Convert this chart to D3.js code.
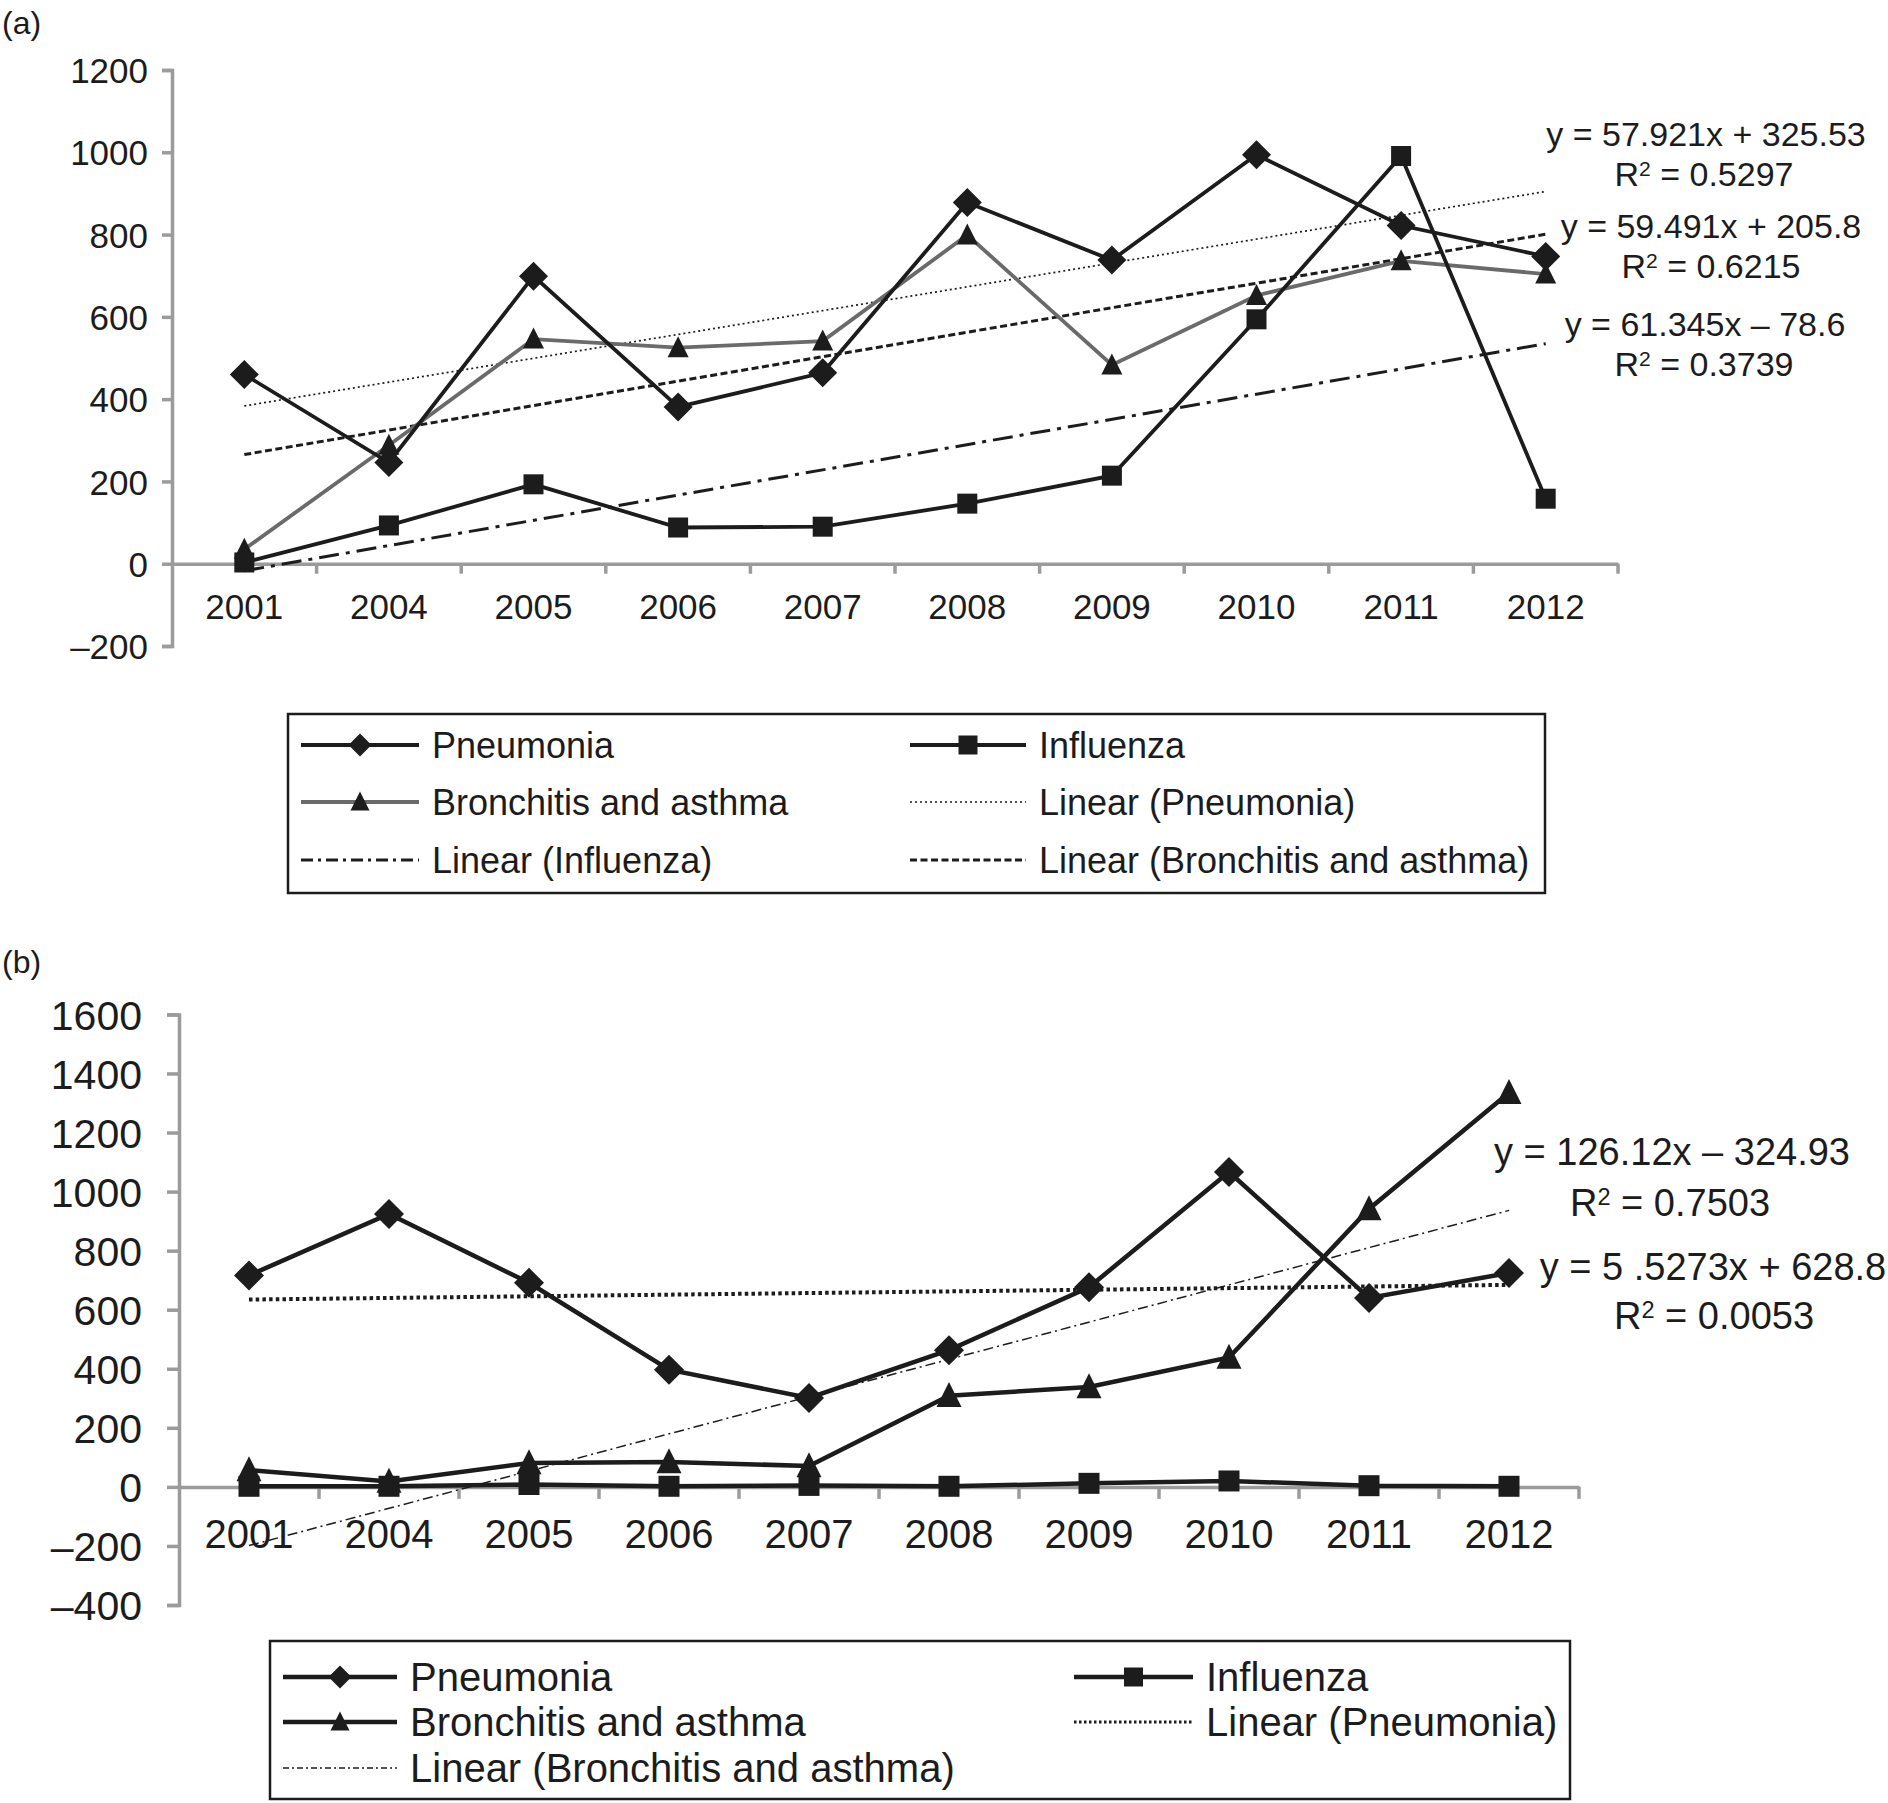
<!DOCTYPE html>
<html><head><meta charset="utf-8">
<script src="https://cdn.jsdelivr.net/npm/d3@7"></script>
<style>
body{margin:0;background:#fff}
svg{display:block}
text{font-family:"Liberation Sans",Arial,Helvetica,sans-serif;fill:#1c1c1c}
</style>
</head><body>
<svg id="c" width="1888" height="1803"></svg>
<script>
// ---------------- DATA ----------------
const categories = ["2001","2004","2005","2006","2007","2008","2009","2010","2011","2012"];

// Panel (a)
const yTicksA = [-200,0,200,400,600,800,1000,1200];
const pneumoniaA  = [460,246,699,381,464,878,738,994,822,747];
const influenzaA  = [3,93,193,88,90,146,214,594,991,158];
const bronchitisA = [35,288,546,525,541,799,483,652,736,704];
const trendSeriesA    = ["pneumonia","influenza","bronchitis"];
const trendSlopeA     = [57.921,61.345,59.491];
const trendInterceptA = [325.53,-78.6,205.8];
const equationTextA   = ["y = 57.921x + 325.53","y = 59.491x + 205.8","y = 61.345x \u2013 78.6"];
const rSquaredTextA   = ["0.5297","0.6215","0.3739"];
const legendLabelsA   = ["Pneumonia","Influenza","Bronchitis and asthma","Linear (Pneumonia)","Linear (Influenza)","Linear (Bronchitis and asthma)"];

// Panel (b)
const yTicksB = [-400,-200,0,200,400,600,800,1000,1200,1400,1600];
const pneumoniaB  = [716,924,691,397,301,463,676,1066,640,724];
const influenzaB  = [2,2,8,2,5,2,12,20,4,2];
const bronchitisB = [57,18,81,84,71,309,338,438,941,1335];
const trendSeriesB    = ["pneumonia","bronchitis"];
const trendSlopeB     = [5.5273,126.12];
const trendInterceptB = [628.8,-324.93];
const equationTextB   = ["y = 126.12x \u2013 324.93","y = 5 .5273x + 628.8"];
const rSquaredTextB   = ["0.7503","0.0053"];
const legendLabelsB   = ["Pneumonia","Influenza","Bronchitis and asthma","Linear (Pneumonia)","Linear (Bronchitis and asthma)"];

// ---------------- DRAWING ----------------
const svg = d3.select("#c");
const INK = "#1c1c1c", AXIS = "#9b9b9b";

function markerPath(type, s){
  if(type==="diamond"){ const h=s/2; return `M0,${-h}L${h},0L0,${h}L${-h},0Z`; }
  if(type==="square"){ const h=s/2; return `M${-h},${-h}H${h}V${h}H${-h}Z`; }
  if(type==="triangle"){ const h=s/2; return `M0,${-h*1.1}L${h},${h*0.9}L${-h},${h*0.9}Z`; }
}

function fmt(v){ return v<0 ? "\u2013"+Math.abs(v) : String(v); }

function drawPanel(o){
  const g = svg.append("g");
  const x = d3.scaleBand().domain(categories).range([o.x0,o.x1]).padding(0);
  const y = d3.scaleLinear().domain([o.yTicks[0], o.yTicks[o.yTicks.length-1]]).range([o.yBottom,o.yTop]);
  const cx = c => x(c) + x.bandwidth()/2;

  // panel letter
  g.append("text").attr("x",o.letterX).attr("y",o.letterY).attr("font-size",o.letterSize).text(o.letter);

  // y axis
  const ya = g.append("g").attr("transform",`translate(${o.x0},0)`)
    .call(d3.axisLeft(y).tickValues(o.yTicks).tickSize(o.tickLen).tickSizeOuter(o.tickLen)
      .tickPadding(o.yPad).tickFormat(fmt));
  ya.selectAll("path,line").attr("stroke",AXIS).attr("stroke-width",3.5);
  ya.selectAll("text").attr("font-size",o.yFont).attr("fill",INK).attr("dy","0.36em");
  ya.attr("font-family",null);

  // x axis at zero
  const xa = g.append("g").attr("transform",`translate(0,${y(0)})`)
    .call(d3.axisBottom(x).tickSize(0).tickSizeOuter(0).tickPadding(o.xPad));
  xa.select(".domain").attr("stroke",AXIS).attr("stroke-width",3.5);
  xa.selectAll("text").attr("font-size",o.xFont).attr("fill",INK);
  xa.attr("font-family",null);
  const bounds = categories.slice(1).map(c=>x(c)).concat([o.x1]);
  xa.selectAll("line.bt").data(bounds).enter().append("line").attr("class","bt")
    .attr("x1",d=>d).attr("x2",d=>d).attr("y1",0).attr("y2",o.tickLen)
    .attr("stroke",AXIS).attr("stroke-width",3.5);

  // trend lines
  const tl = d3.line().x(d=>d[0]).y(d=>y(d[1]));
  o.trends.forEach(t=>{
    const n = categories.length;
    const pts = [[cx(categories[0]), t.slope*1 + t.intercept],[cx(categories[n-1]), t.slope*n + t.intercept]];
    g.append("path").attr("d",tl(pts)).attr("fill","none").attr("stroke",INK)
      .attr("stroke-width",t.style.w).attr("stroke-dasharray",t.style.dash)
      .attr("stroke-linecap",t.style.cap||"butt");
  });

  // series
  const line = d3.line().x((d,i)=>cx(categories[i])).y(d=>y(d));
  o.series.forEach(s=>{
    g.append("path").attr("d",line(s.values)).attr("fill","none")
      .attr("stroke",s.color).attr("stroke-width",s.w).attr("stroke-linejoin","miter");
    g.selectAll(null).data(s.values).enter().append("path")
      .attr("d",markerPath(s.marker,s.size))
      .attr("transform",(d,i)=>`translate(${cx(categories[i])},${y(d)})`)
      .attr("fill",INK);
  });

  // equation labels
  o.equations.forEach(e=>{
    g.append("text").attr("x",e.x).attr("y",e.y).attr("text-anchor","middle")
      .attr("font-size",o.eqFont).text(e.eq);
    const t = g.append("text").attr("x",e.rx).attr("y",e.ry).attr("text-anchor","middle").attr("font-size",o.eqFont);
    t.append("tspan").text("R");
    t.append("tspan").attr("font-size",o.eqFont*0.62).attr("dy",-o.eqFont*0.3).text("2");
    t.append("tspan").attr("dy",o.eqFont*0.3).text(" = "+e.r);
  });

  // legend
  const L = o.legend;
  g.append("rect").attr("x",L.x).attr("y",L.y).attr("width",L.w).attr("height",L.h)
    .attr("fill","#fff").attr("stroke",INK).attr("stroke-width",2.5);
  L.items.forEach((it,i)=>{
    const col = i%2, row = Math.floor(i/2);
    const sx0 = L.cols[col][0], sx1 = L.cols[col][1], ty = L.rows[row];
    g.append("line").attr("x1",sx0).attr("x2",sx1).attr("y1",ty).attr("y2",ty)
      .attr("stroke",it.color).attr("stroke-width",it.w).attr("stroke-dasharray",it.dash||null)
      .attr("stroke-linecap",it.cap||"butt");
    if(it.marker){
      g.append("path").attr("d",markerPath(it.marker,it.size))
        .attr("transform",`translate(${(sx0+sx1)/2},${ty})`).attr("fill",INK);
    }
    g.append("text").attr("x",sx1+L.gap).attr("y",ty).attr("dy","0.36em")
      .attr("font-size",L.font).text(it.label);
  });
}

const dotA  = {w:1.7, dash:"2,3"};
const dashDotA = {w:3, dash:"20,7,4,7"};
const dashA = {w:3, dash:"7,3.5"};
const dotB  = {w:4, dash:"3.5,3.2"};
const dashDotB = {w:1.5, dash:"10,4,2,4"};

const trendStyleA = {pneumonia:dotA, influenza:dashDotA, bronchitis:dashA};

drawPanel({
  letter:"(a)", letterX:2, letterY:34, letterSize:32,
  x0:172, x1:1618, yTop:70, yBottom:646, yTicks:yTicksA,
  tickLen:10, yPad:14, xPad:30, yFont:35, xFont:35, eqFont:34,
  trends: trendSeriesA.map((k,i)=>({slope:trendSlopeA[i], intercept:trendInterceptA[i], style:trendStyleA[k]})),
  series:[
    {values:bronchitisA, color:"#6a6a6a", w:3.8, marker:"triangle", size:21},
    {values:influenzaA,  color:INK, w:3.8, marker:"square", size:20},
    {values:pneumoniaA,  color:INK, w:3.8, marker:"diamond", size:29}
  ],
  equations:[
    {eq:equationTextA[0], x:1706, y:146, r:rSquaredTextA[0], rx:1704, ry:186},
    {eq:equationTextA[1], x:1711, y:238, r:rSquaredTextA[1], rx:1711, ry:278},
    {eq:equationTextA[2], x:1705, y:336, r:rSquaredTextA[2], rx:1704, ry:376}
  ],
  legend:{x:288, y:714, w:1257, h:179, font:36, gap:13,
    cols:[[301,419],[910,1026]], rows:[745,802,860],
    items:[
      {label:legendLabelsA[0], color:INK, w:4, marker:"diamond", size:23},
      {label:legendLabelsA[1], color:INK, w:4, marker:"square", size:19},
      {label:legendLabelsA[2], color:"#6a6a6a", w:4, marker:"triangle", size:19},
      {label:legendLabelsA[3], color:INK, w:1.7, dash:dotA.dash},
      {label:legendLabelsA[4], color:INK, w:3, dash:"12,5,3,5"},
      {label:legendLabelsA[5], color:INK, w:3, dash:dashA.dash}
    ]}
});

const trendStyleB = {pneumonia:dotB, bronchitis:dashDotB};
drawPanel({
  letter:"(b)", letterX:2, letterY:973, letterSize:32,
  x0:179, x1:1579, yTop:1014.4, yBottom:1605, yTicks:yTicksB,
  tickLen:12, yPad:25, xPad:33, yFont:41, xFont:40, eqFont:38,
  trends: trendSeriesB.map((k,i)=>({slope:trendSlopeB[i], intercept:trendInterceptB[i], style:trendStyleB[k]})),
  series:[
    {values:bronchitisB, color:INK, w:4.5, marker:"triangle", size:25},
    {values:influenzaB,  color:INK, w:4.5, marker:"square", size:21},
    {values:pneumoniaB,  color:INK, w:4.5, marker:"diamond", size:30}
  ],
  equations:[
    {eq:equationTextB[0], x:1672, y:1165, r:rSquaredTextB[0], rx:1670, ry:1216},
    {eq:equationTextB[1], x:1713, y:1280, r:rSquaredTextB[1], rx:1714, ry:1329}
  ],
  legend:{x:270, y:1641, w:1300, h:158, font:40, gap:13,
    cols:[[283,397],[1074,1193]], rows:[1677,1722,1768],
    items:[
      {label:legendLabelsB[0], color:INK, w:4.5, marker:"diamond", size:23},
      {label:legendLabelsB[1], color:INK, w:4.5, marker:"square", size:19},
      {label:legendLabelsB[2], color:INK, w:4.5, marker:"triangle", size:19},
      {label:legendLabelsB[3], color:INK, w:3, dash:"2.5,2.5"},
      {label:legendLabelsB[4], color:INK, w:1.5, dash:"6,3,2,3"}
    ]}
});
</script>
</body></html>
